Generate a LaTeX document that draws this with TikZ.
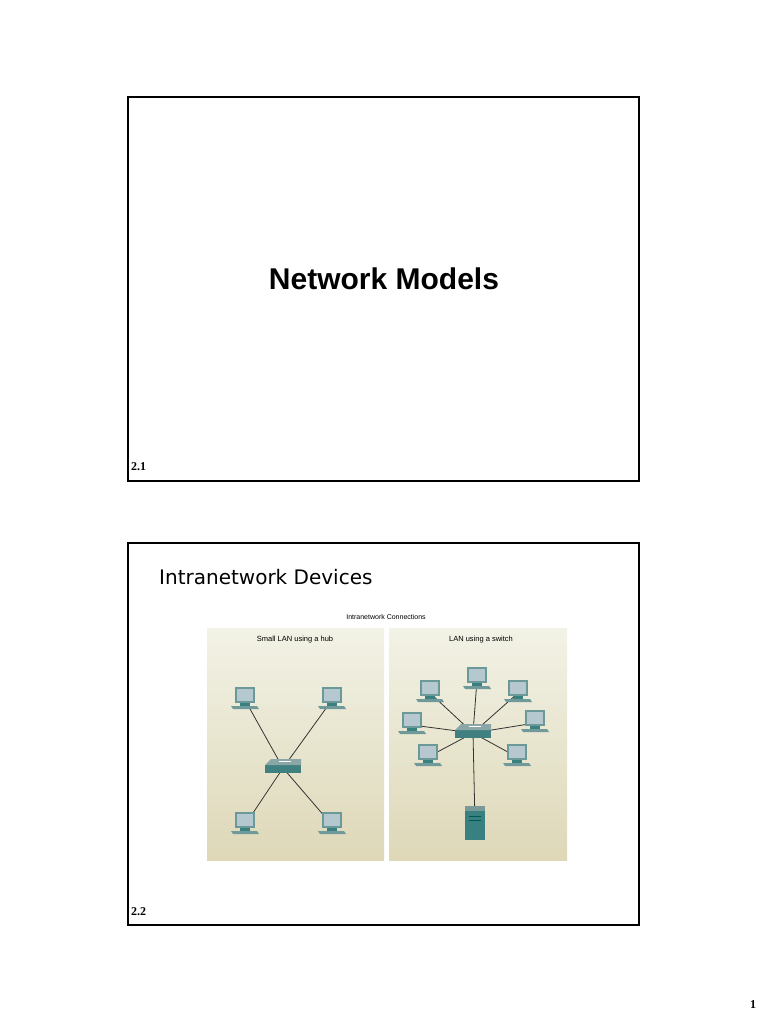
\documentclass[tikz,border=0pt]{standalone}
\usepackage{fontspec}
\setmainfont{Liberation Serif}
\newfontfamily\arialf{Liberation Sans}
\newfontfamily\dvs{DejaVu Sans}
\definecolor{bgtop}{RGB}{242,242,230}
\definecolor{bgbot}{RGB}{222,216,184}
\begin{document}
\begin{tikzpicture}[x=1pt,y=-1pt,
  slide/.style={draw=black,line width=1.2pt,fill=white},
  link/.style={draw=black!80,line width=0.8pt},
  pcnode/.style={minimum width=24pt,minimum height=22pt,inner sep=0pt},
  pc/.pic={
    \fill[teal!45!gray!80] (-10,-13) rectangle (10,3);
    \fill[cyan!25!gray!55] (-8,-11) rectangle (8,1);
    \fill[teal!55!gray] (-5,3) rectangle (5,6);
    \fill[teal!40!gray!80] (-14,6) -- (12,6) -- (14,9) -- (-12,9) -- cycle;
  },
  hub/.pic={
    \fill[teal!50!gray] (-18,-3) rectangle (18,5);
    \fill[teal!30!gray!70] (-18,-3) -- (-12,-9) -- (18,-9) -- (18,-3) -- cycle;
    \draw[white,line width=0.8pt] (-4,-7) -- (8,-7);
  },
  server/.pic={
    \fill[teal!55!gray] (-10,-17) rectangle (10,17);
    \fill[teal!30!gray!80] (-10,-17) rectangle (10,-12);
    \draw[teal!70!black,line width=0.5pt] (-6,-7) -- (6,-7) (-6,-3) -- (6,-3);
  }]
\useasboundingbox (0,0) rectangle (768,1024);
\fill[white] (0,0) rectangle (768,1024);
% slide 1
\draw[slide] (128,97) rectangle (639,481);
\node[font=\arialf\bfseries\fontsize{30}{34}\selectfont] (t1) at (384,279) {Network Models};
\node[font=\bfseries\fontsize{12}{14}\selectfont,anchor=west,inner sep=0pt] (n1) at (131,467) {2.1};
% slide 2
\draw[slide] (128,543) rectangle (639,925);
\node[font=\dvs\fontsize{20}{24}\selectfont,anchor=west,inner sep=0pt] (t2) at (159,577) {Intranetwork Devices};
\node[font=\bfseries\fontsize{12}{14}\selectfont,anchor=west,inner sep=0pt] (n2) at (131,912) {2.2};
\node[font=\bfseries\fontsize{12}{14}\selectfont] (pg) at (753,1005) {1};
% panels
\shade[top color=bgtop,bottom color=bgbot] (207,628) rectangle (384,860);
\shade[top color=bgtop,bottom color=bgbot] (389,628) rectangle (567,860);
\node[font=\arialf\fontsize{7}{8}\selectfont] (cap) at (386,617) {Intranetwork Connections};
\node[font=\arialf\fontsize{7.5}{8}\selectfont] (s1) at (295,640) {Small LAN using a hub};
\node[font=\arialf\fontsize{7.5}{8}\selectfont] (s2) at (481,640) {LAN using a switch};
% left
\node[pcnode] (h) at (283,768) {};
\node[pcnode] (a1) at (245,700) {};
\node[pcnode] (a2) at (332,700) {};
\node[pcnode] (a3) at (245,825) {};
\node[pcnode] (a4) at (332,825) {};
\foreach \n in {a1,a2,a3,a4} \draw[link] (h.center) -- (\n.center);
\pic at (h) {hub};
\foreach \n in {a1,a2,a3,a4} \pic at (\n) {pc};
% right
\node[pcnode] (sw) at (473,733) {};
\node[pcnode] (b1) at (477,680) {};
\node[pcnode] (b2) at (430,693) {};
\node[pcnode] (b3) at (518,693) {};
\node[pcnode] (b4) at (412,725) {};
\node[pcnode] (b5) at (535,723) {};
\node[pcnode] (b6) at (428,757) {};
\node[pcnode] (b7) at (517,757) {};
\node[pcnode] (sv) at (475,823) {};
\foreach \n in {b1,b2,b3,b4,b5,b6,b7,sv} \draw[link] (sw.center) -- (\n.center);
\pic at (sw) {hub};
\foreach \n in {b1,b2,b3,b4,b5,b6,b7} \pic at (\n) {pc};
\pic at (sv) {server};
\end{tikzpicture}
\end{document}
